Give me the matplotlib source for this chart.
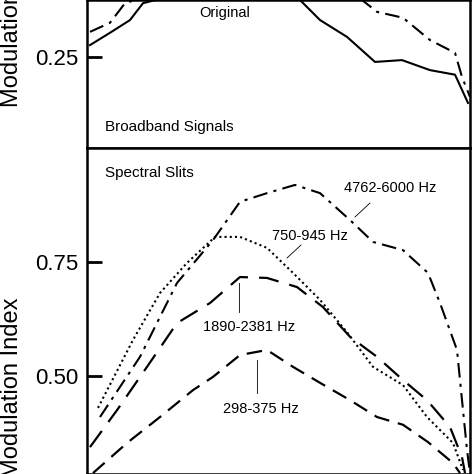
import matplotlib.pyplot as plt

plt.rcParams['font.family'] = ['Liberation Sans', 'DejaVu Sans']

# top panel: broadband signals
bb_x_solid = [90, 110, 130, 143, 200, 260, 300, 320, 347, 375, 402, 430, 455, 468]
bb_y_solid = [0.276, 0.303, 0.331, 0.368, 0.40, 0.41, 0.375, 0.331, 0.294, 0.239, 0.243, 0.221, 0.211, 0.149]
bb_x_dd = [90, 110, 125, 200, 300, 362, 377, 403, 430, 455, 462, 470]
bb_y_dd = [0.305, 0.325, 0.368, 0.42, 0.43, 0.375, 0.349, 0.336, 0.287, 0.259, 0.206, 0.162]

# bottom panel: spectral slits
x_4762 = [100, 140, 177, 213, 240, 267, 295, 320, 350, 373, 403, 428, 440, 457, 462, 467, 470]
y_4762 = [0.410, 0.542, 0.704, 0.798, 0.882, 0.901, 0.919, 0.901, 0.842, 0.794, 0.776, 0.726, 0.660, 0.557, 0.447, 0.338, 0.287]
x_750 = [98, 133, 160, 187, 215, 240, 267, 293, 320, 347, 373, 403, 427, 453, 463]
y_750 = [0.430, 0.579, 0.682, 0.748, 0.805, 0.805, 0.781, 0.726, 0.667, 0.596, 0.520, 0.480, 0.410, 0.353, 0.294]
x_1890 = [90, 117, 147, 177, 210, 240, 267, 297, 323, 350, 377, 403, 427, 450, 462, 465]
y_1890 = [0.344, 0.425, 0.520, 0.616, 0.660, 0.717, 0.715, 0.695, 0.651, 0.586, 0.542, 0.491, 0.447, 0.388, 0.322, 0.287]
x_298 = [93, 127, 160, 193, 213, 240, 267, 293, 320, 350, 377, 403, 428, 453, 460]
y_298 = [0.287, 0.353, 0.410, 0.469, 0.498, 0.546, 0.557, 0.520, 0.485, 0.447, 0.410, 0.393, 0.355, 0.309, 0.287]

W = 474
fig = plt.figure(figsize=(4.74, 4.74), dpi=100)
ax1 = fig.add_axes([87 / W, 326 / W, 383 / W, 148 / W])
ax2 = fig.add_axes([87 / W, 0, 383 / W, 326 / W])

ax1.plot(bb_x_solid, bb_y_solid, color='black', lw=1.5)
ax1.plot(bb_x_dd, bb_y_dd, color='black', lw=1.5, dashes=[7, 3, 1.5, 3])
ax1.set_ylim(0.05, 0.375)
ax1.set_yticks([0.25])

ax2.plot(x_4762, y_4762, color='black', lw=1.5, dashes=[7, 3, 1.5, 3])
ax2.plot(x_750, y_750, color='black', lw=1.5, dashes=[1, 1.5])
ax2.plot(x_1890, y_1890, color='black', lw=1.6, dashes=[9, 5])
ax2.plot(x_298, y_298, color='black', lw=1.6, dashes=[7, 4])
ax2.set_ylim(0.285, 1.0)
ax2.set_yticks([0.50, 0.75])

for ax in (ax1, ax2):
    ax.set_xlim(87, 470)
    ax.set_xticks([])
    ax.tick_params(axis='y', direction='in', length=11, width=2, labelsize=16, pad=6)
    for s in ax.spines.values():
        s.set_linewidth(1.8)
    ax.yaxis.set_major_formatter(plt.FormatStrFormatter('%.2f'))

def px(x, y):
    return (x / W, 1 - y / W)

# y labels are cut by the figure edge, as in the reference
fig.text(*px(12, 297), 'Modulation Index', rotation=90, va='top', ha='center', fontsize=17)
fig.text(*px(12, 107), 'Modulation Index', rotation=90, va='bottom', ha='center', fontsize=17)

fig.text(*px(105, 127), 'Broadband Signals', va='center', fontsize=11)
fig.text(*px(105, 173), 'Spectral Slits', va='center', fontsize=11)
fig.text(*px(225, 13), 'Original', ha='center', va='center', fontsize=10.5)

labels = [('4762-6000 Hz', 390, 188, (370, 203), (355, 217)),
          ('750-945 Hz', 310, 236, (301, 245), (287, 258)),
          ('1890-2381 Hz', 249, 327, (239, 312), (239, 283)),
          ('298-375 Hz', 261, 409, (257, 393), (257, 360))]
for txt, tx, ty, p0, p1 in labels:
    fig.text(*px(tx, ty), txt, ha='center', va='center', fontsize=10.5)
    fig.add_artist(plt.Line2D([p0[0] / W, p1[0] / W], [1 - p0[1] / W, 1 - p1[1] / W],
                              color='black', lw=0.6, transform=fig.transFigure))

fig.savefig('out.png', dpi=100)
